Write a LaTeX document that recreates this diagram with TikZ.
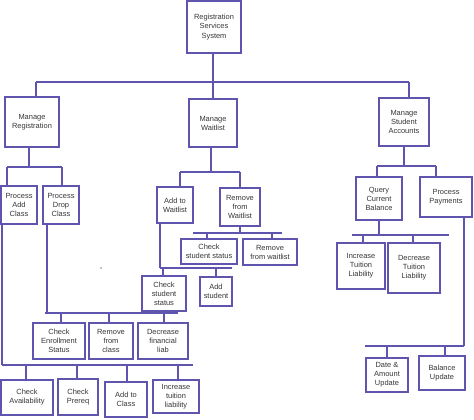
\documentclass[tikz,border=0pt]{standalone}
\usepackage{fontspec}
\setmainfont{Liberation Sans}
\usepackage{tikz}
\usepackage{xcolor}
\definecolor{linec}{RGB}{95,85,175}
\definecolor{textc}{RGB}{55,55,60}
\usetikzlibrary{calc}
\tikzset{
  box/.style={draw=linec, line width=1.2pt, fill=white, align=center, inner sep=0pt,
    text=textc, font=\fontsize{5.6}{6.8}\selectfont},
  wh/.style 2 args={minimum width=#1*0.75pt, minimum height=#2*0.75pt},
  conn/.style={draw=linec, line width=1.1pt}
}

\begin{document}
\begin{tikzpicture}[x=0.75pt, y=-0.75pt]
\useasboundingbox[fill=white] (0,0) rectangle (474,419);

\node[box, wh={54}{52}] (rss) at (214,27) {Registration\\Services\\System};
\node[box, wh={54}{50}] (mreg) at (32,122) {Manage\\Registration};
\node[box, wh={48}{48}] (mwait) at (213,123) {Manage\\Waitlist};
\node[box, wh={50}{48}] (macc) at (404,122) {Manage\\Student\\Accounts};

\node[box, wh={36}{38}] (pac) at (19,205) {Process\\Add\\Class};
\node[box, wh={36}{38}] (pdc) at (61,205) {Process\\Drop\\Class};
\node[box, wh={36}{36}] (atw) at (175,205) {Add to\\Waitlist};
\node[box, wh={40}{38}] (rfw) at (240,207) {Remove\\from\\Waitlist};
\node[box, wh={56}{25}] (css1) at (209,251.5) {Check\\student status};
\node[box, wh={54}{26}] (rfwl) at (270,252) {Remove\\from waitlist};
\node[box, wh={44}{35}] (css2) at (164,293.5) {Check\\student\\status};
\node[box, wh={32}{29}] (adds) at (216,291.5) {Add\\student};

\node[box, wh={52}{36}] (ces) at (59,341) {Check\\Enrollment\\Status};
\node[box, wh={44}{36}] (rfc) at (111,341) {Remove\\from\\class};
\node[box, wh={50}{36}] (dfl) at (163,341) {Decrease\\financial\\liab};

\node[box, wh={52}{35}] (cav) at (27,397.5) {Check\\Availability};
\node[box, wh={40}{36}] (cpr) at (78,397) {Check\\Prereq};
\node[box, wh={42}{35}] (atc) at (126,399.5) {Add to\\Class};
\node[box, wh={46}{33}] (itl) at (176,396.5) {Increase\\tuition\\liability};

\node[box, wh={46}{43}] (qcb) at (379,198.5) {Query\\Current\\Balance};
\node[box, wh={52}{40}] (ppay) at (446,197) {Process\\Payments};
\node[box, wh={48}{46}] (itl2) at (361,266) {Increase\\Tuition\\Liability};
\node[box, wh={52}{50}] (dtl) at (414,268) {Decrease\\Tuition\\Liability};
\node[box, wh={42}{34}] (dau) at (387,375) {Date \&\\Amount\\Update};
\node[box, wh={46}{34}] (bup) at (442,373) {Balance\\Update};

\coordinate (topM) at (213,82);
\coordinate (topL) at (36,82);
\coordinate (topR) at (409,82);
\draw[conn] (rss.south -| topM) -- (topM);
\draw[conn] (topL) -- (topR);
\draw[conn] (topL) -- (mreg.north -| topL);
\draw[conn] (mwait.north |- topL) -- (mwait.north);
\draw[conn] (topR) -- (macc.north -| topR);

\coordinate (regM) at (29,167);
\coordinate (regL) at (7,167);
\coordinate (regR) at (62,167);
\draw[conn] (mreg.south -| regM) -- (regM);
\draw[conn] (regL) -- (regR);
\draw[conn] (regL) -- (pac.north -| regL);
\draw[conn] (regR) -- (pdc.north -| regR);

\coordinate (midL) at (45,313);
\coordinate (midR) at (178,313);
\coordinate (pdcD) at (47,313);
\coordinate (cesU) at (61,313);
\coordinate (rfcU) at (109,313);
\coordinate (dflU) at (164,313);
\coordinate (cssD) at (165,313);
\draw[conn] (pdc.south -| pdcD) -- (pdcD);
\draw[conn] (midL) -- (midR);
\draw[conn] (ces.north -| cesU) -- (cesU);
\draw[conn] (rfc.north -| rfcU) -- (rfcU);
\draw[conn] (dfl.north -| dflU) -- (dflU);
\draw[conn] (css2.south -| cssD) -- (cssD);

\coordinate (botL) at (2,365);
\coordinate (botR) at (193,365);
\coordinate (cavU) at (26,365);
\coordinate (cprU) at (77,365);
\coordinate (atcU) at (127,365);
\coordinate (itlU) at (178,365);
\draw[conn, line width=1.6pt] (pac.south west -| botL) -- (botL);
\draw[conn] (botL) -- (botR);
\draw[conn] (cav.north -| cavU) -- (cavU);
\draw[conn] (cpr.north -| cprU) -- (cprU);
\draw[conn] (atc.north -| atcU) -- (atcU);
\draw[conn] (itl.north -| itlU) -- (itlU);

\coordinate (waitM) at (211,172);
\coordinate (waitL) at (180,172);
\coordinate (waitR) at (240,172);
\draw[conn] (mwait.south -| waitM) -- (waitM);
\draw[conn] (waitL) -- (waitR);
\draw[conn] (waitL) -- (atw.north -| waitL);
\draw[conn] (waitR) -- (rfw.north -| waitR);

\coordinate (rfwL) at (193,233);
\coordinate (rfwR) at (282,233);
\coordinate (css1U) at (207,233);
\coordinate (rfwlU) at (272,233);
\draw[conn] (rfw.south) -- (rfw.south |- rfwL);
\draw[conn] (rfwL) -- (rfwR);
\draw[conn] (css1.north -| css1U) -- (css1U);
\draw[conn] (rfwl.north -| rfwlU) -- (rfwlU);

\coordinate (atwL) at (160,268);
\coordinate (atwR) at (232,268);
\coordinate (css2U) at (163,268);
\draw[conn] (atw.south -| atwL) -- (atwL);
\draw[conn] (atwL) -- (atwR);
\draw[conn] (css2.north -| css2U) -- (css2U);
\draw[conn] (adds.north) -- (adds.north |- atwL);

\coordinate (accM) at (404,166);
\coordinate (accL) at (377,166);
\coordinate (accR) at (436,166);
\draw[conn] (macc.south -| accM) -- (accM);
\draw[conn] (accL) -- (accR);
\draw[conn] (accL) -- (qcb.north -| accL);
\draw[conn] (accR) -- (ppay.north -| accR);

\coordinate (qcbL) at (352,235);
\coordinate (qcbR) at (449,235);
\coordinate (itl2U) at (363,235);
\coordinate (dtlU) at (413,235);
\draw[conn] (qcb.south) -- (qcb.south |- qcbL);
\draw[conn] (qcbL) -- (qcbR);
\draw[conn] (itl2.north -| itl2U) -- (itl2U);
\draw[conn] (dtl.north -| dtlU) -- (dtlU);

\coordinate (payL) at (365,346);
\coordinate (payR) at (464,346);
\coordinate (dauU) at (387,346);
\coordinate (bupU) at (445,346);
\draw[conn] (ppay.south -| payR) -- (payR);
\draw[conn] (payL) -- (payR);
\draw[conn] (dau.north -| dauU) -- (dauU);
\draw[conn] (bup.north -| bupU) -- (bupU);

\fill[gray] (101,268) circle (0.8);
\end{tikzpicture}
\end{document}
